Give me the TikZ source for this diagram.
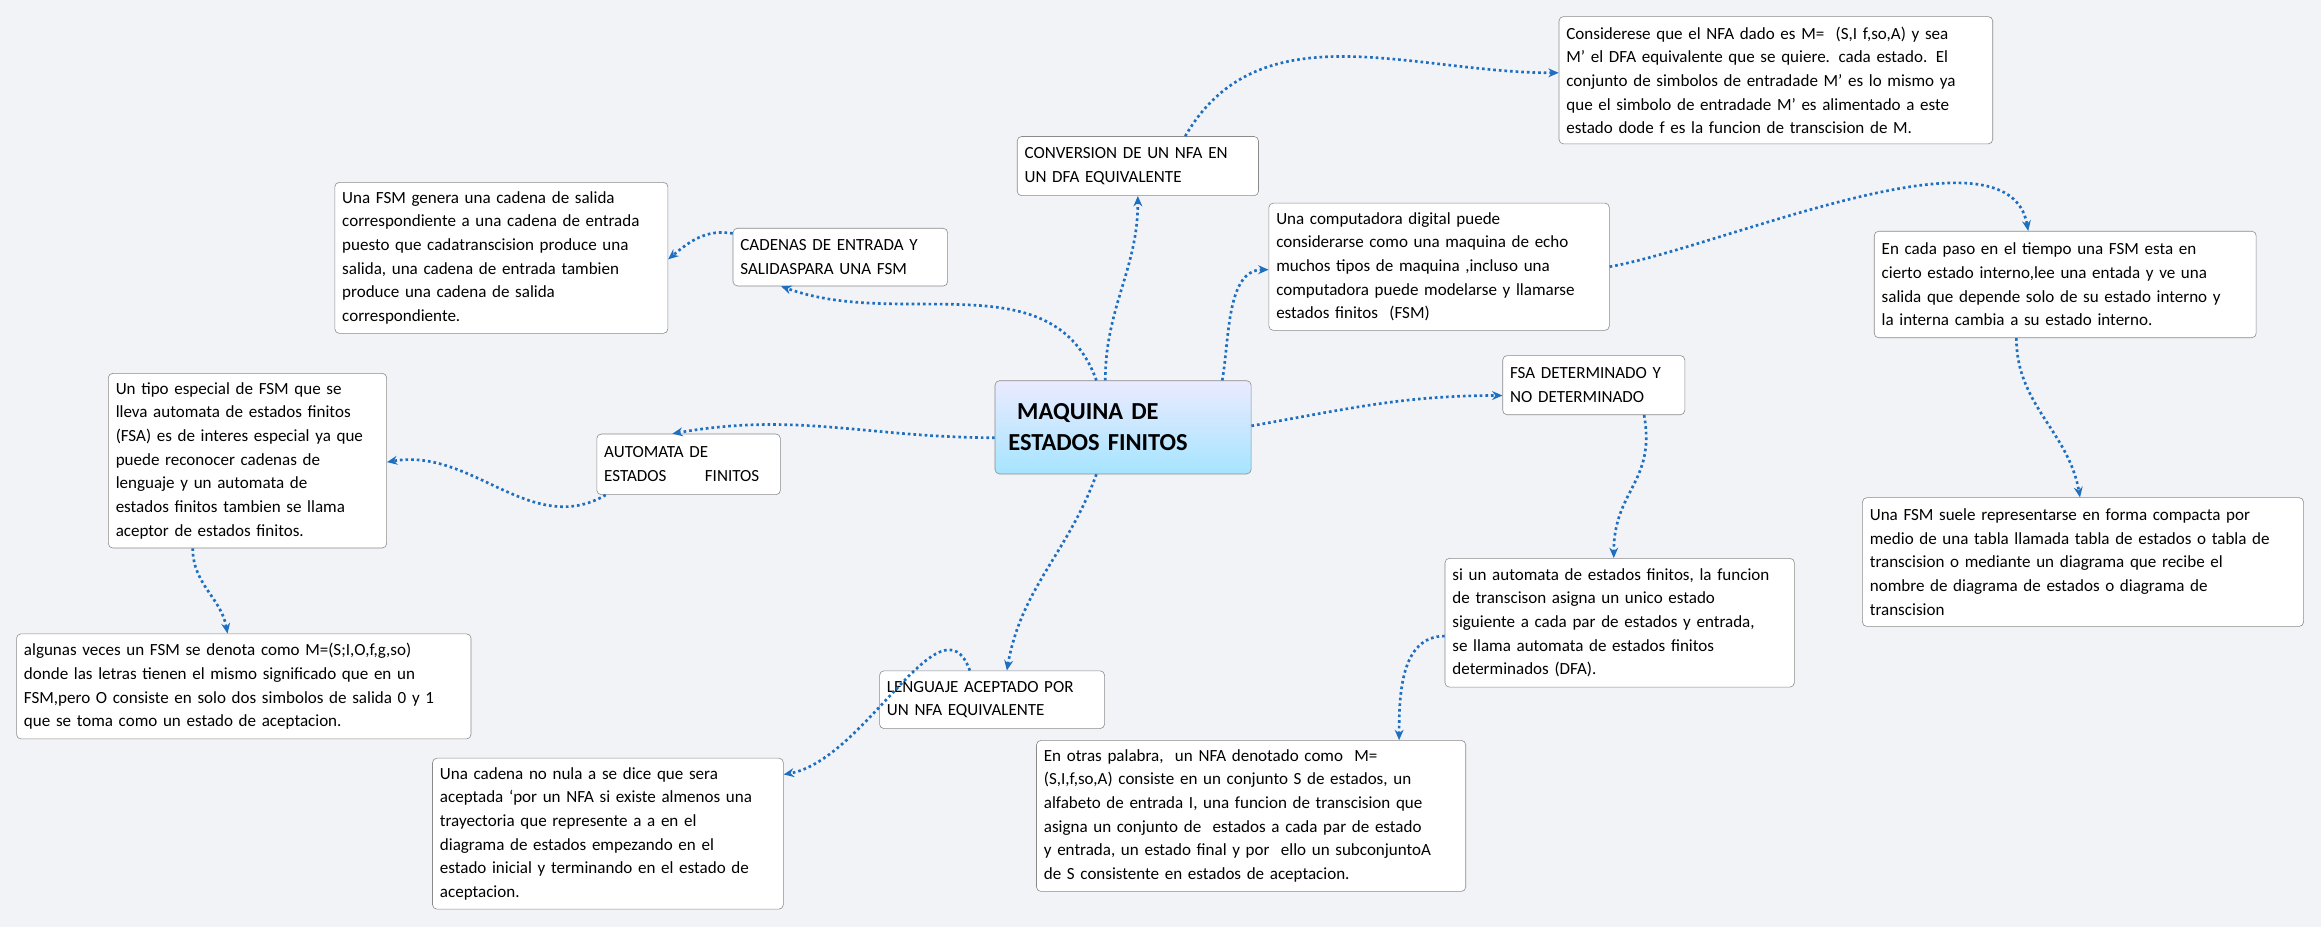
\documentclass[tikz,border=0pt]{standalone}
\usepackage{fontspec}
\setmainfont{Carlito}
\usetikzlibrary{arrows.meta}
\definecolor{bg}{HTML}{F1F3F7}
\definecolor{lnk}{HTML}{1F6FC0}
\definecolor{bord}{HTML}{8A8A8A}
\tikzset{
 box/.style={draw=bord,fill=white,rounded corners=3pt,anchor=north west,align=left,inner xsep=5pt,inner ysep=4pt,font=\fontsize{11.5}{16}\selectfont},
 lk/.style={draw=lnk,line width=1.8pt,dotted,-{Stealth[length=7pt,width=6pt]}},
}
\newcommand{\bx}[6]{\node[box,text width=#3-10,minimum height=#4] (#1) at (#2) {#6};}
\begin{document}
\begin{tikzpicture}[x=1pt,y=-1pt]
\fill[bg] (0,0) rectangle (1568,626);
\useasboundingbox (0,0) rectangle (1568,626);
\node[draw=bord,rounded corners=3pt,top color=blue!8,bottom color=blue!30!cyan!35,text width=155,minimum height=63,anchor=north west,align=left,inner xsep=9pt,font=\fontsize{16.5}{21}\selectfont\bfseries] (c) at (672,257) {\hspace*{6pt}MAQUINA DE\\ESTADOS FINITOS};
\bx{conv}{687,92}{163}{40}{}{CONVERSION DE UN NFA EN\\UN DFA EQUIVALENTE}
\bx{nfa}{1053,11}{293}{86}{}{Considerese que el NFA dado es M= \ (S,I f,so,A) y sea\\M' el DFA equivalente que se quiere. cada estado. El\\conjunto de simbolos de entradade M' es lo mismo ya\\que el simbolo de entradade M' es alimentado a este\\estado dode f es la funcion de transcision de M.}
\bx{cad}{495,154}{145}{39}{}{CADENAS DE ENTRADA Y\\SALIDASPARA UNA FSM}
\bx{gen}{226,123}{225}{102}{}{Una FSM genera una cadena de salida\\correspondiente a una cadena de entrada\\puesto que cadatranscision produce una\\salida, una cadena de entrada tambien\\produce una cadena de salida\\correspondiente.}
\bx{comp}{857,137}{230}{86}{}{Una computadora digital puede\\considerarse como una maquina de echo\\muchos tipos de maquina ,incluso una\\computadora puede modelarse y llamarse\\estados finitos \ (FSM)}
\bx{paso}{1266,156}{258}{72}{}{En cada paso en el tiempo una FSM esta en\\cierto estado interno,lee una entada y ve una\\salida que depende solo de su estado interno y\\la interna cambia a su estado interno.}
\bx{fsa}{1015,240}{123}{40}{}{FSA DETERMINADO Y\\NO DETERMINADO}
\bx{suele}{1258,336}{298}{87}{}{Una FSM suele representarse en forma compacta por\\medio de una tabla llamada tabla de estados o tabla de\\transcision o mediante un diagrama que recibe el\\nombre de diagrama de estados o diagrama de\\transcision}
\bx{aut}{403,293}{124}{41}{}{AUTOMATA DE\\ESTADOS\hspace{26pt}FINITOS}
\bx{tipo}{73,252}{188}{118}{}{Un tipo especial de FSM que se\\lleva automata de estados finitos\\(FSA) es de interes especial ya que\\puede reconocer cadenas de\\lenguaje y un automata de\\estados finitos tambien se llama\\aceptor de estados finitos.}
\bx{alg}{11,428}{307}{71}{}{algunas veces un FSM se denota como M=(S;I,O,f,g,so)\\donde las letras tienen el mismo significado que en un\\FSM,pero O consiste en solo dos simbolos de salida 0 y 1\\que se toma como un estado de aceptacion.}
\bx{siun}{976,377}{236}{87}{}{si un automata de estados finitos, la funcion\\de transcison asigna un unico estado\\siguiente a cada par de estados y entrada,\\se llama automata de estados finitos\\determinados (DFA).}
\bx{len}{594,453}{152}{39}{}{LENGUAJE ACEPTADO POR\\UN NFA EQUIVALENTE}
\bx{cadn}{292,512}{237}{102}{}{Una cadena no nula a se dice que sera\\aceptada `por un NFA si existe almenos una\\trayectoria que represente a a en el\\diagrama de estados empezando en el\\estado inicial y terminando en el estado de\\ aceptacion.}
\bx{otras}{700,500}{290}{102}{}{En otras palabra, \ un NFA denotado como \ M=\\(S,I,f,so,A) consiste en un conjunto S de estados, un\\alfabeto de entrada I, una funcion de transcision que\\asigna un conjunto de \ estados a cada par de estado\\y entrada, un estado final y por \ ello un subconjuntoA\\de S consistente en estados de aceptacion.}
% center connectors
\draw[lk] ([xshift=-12pt]c.north) to[out=90,in=-90] (conv.south);
\draw[lk] ([xshift=-18pt]c.north) to[out=110,in=-20] ([xshift=-40pt]cad.south);
\draw[lk] ([xshift=67pt]c.north) to[out=80,in=180,looseness=0.9] ([yshift=-2pt]comp.west);
\draw[lk] ([yshift=1pt]c.east) to[out=10,in=180] ([yshift=-7pt]fsa.west);
\draw[lk] ([yshift=-7pt]c.west) to[out=180,in=10] ([xshift=-11pt]aut.north);
\draw[lk] ([xshift=-18pt]c.south) to[out=-110,in=80] ([xshift=10pt]len.north);
% sub connectors
\draw[lk] ([xshift=32pt]conv.north) to[out=60,in=180] ([yshift=5pt]nfa.west);
\draw[lk] ([yshift=16pt]cad.west) to[out=170,in=40] ([yshift=-1pt]gen.east);
\draw[lk] (comp.east) to[out=10,in=100,looseness=0.7] ([xshift=-25pt]paso.north);
\draw[lk] ([xshift=-33pt]paso.south) to[out=-90,in=100] ([xshift=-2pt]suele.north);
\draw[lk] ([xshift=34pt]fsa.south) to[out=-80,in=90,looseness=1.2] ([xshift=-4pt]siun.north);
\draw[lk] ([yshift=-9pt]siun.west) to[out=180,in=90] ([xshift=100pt]otras.north);
\draw[lk] ([xshift=-56pt]aut.south) to[out=-150,in=10] ([yshift=-1pt]tipo.east);
\draw[lk] ([xshift=-37pt]tipo.south) to[out=-90,in=100] ([xshift=-11pt]alg.north);
\draw[lk] ([xshift=-15pt]len.north) to[out=110,in=10] ([yshift=40pt]cadn.east);
\end{tikzpicture}
\end{document}
